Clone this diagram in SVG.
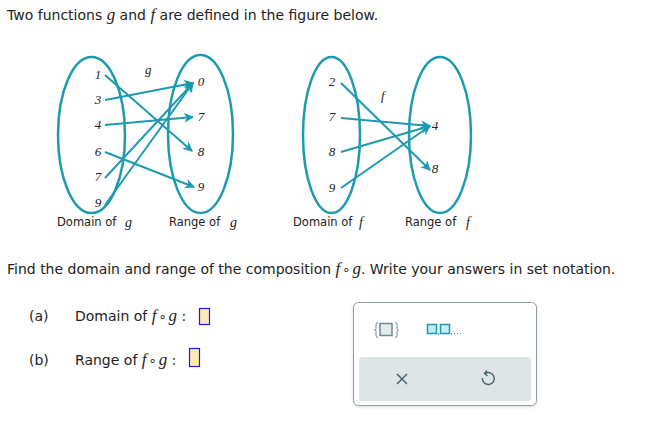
<svg xmlns="http://www.w3.org/2000/svg" width="661" height="426" viewBox="0 0 661 426">
<style>
.t{font-family:"DejaVu Sans",Verdana,sans-serif;font-size:14px;fill:#222}
.s{font-family:"DejaVu Sans",Verdana,sans-serif;font-size:11.5px;fill:#222}
.m{font-family:"Liberation Serif","Times New Roman",serif;font-style:italic;fill:#222}
.c{font-family:"DejaVu Sans",sans-serif;font-size:13px}
.n{font-family:"Liberation Serif","Times New Roman",serif;font-style:italic;font-size:13px;fill:#222;text-anchor:middle}
.ov{fill:none;stroke:#1e9ab0;stroke-width:2.5}
.ar{stroke:#1e9ab0;stroke-width:2;fill:none;marker-end:url(#ah)}
</style>
<defs>
<marker id="ah" viewBox="0 0 10 10" refX="9" refY="5" markerWidth="5" markerHeight="5" orient="auto" markerUnits="strokeWidth">
<path d="M0,0 L10,5 L0,10 L3,5 z" fill="#1e9ab0"/>
</marker>
<filter id="sh" x="-5%" y="-5%" width="110%" height="115%"><feDropShadow dx="0" dy="1" stdDeviation="1.5" flood-color="#000" flood-opacity="0.15"/></filter>
</defs>
<rect width="661" height="426" fill="#fff"/>
<text class="t" x="7" y="20">Two functions <tspan class="m" font-size="17">g</tspan> and <tspan class="m" font-size="17">f</tspan> are defined in the figure below.</text>

<g id="g-domain">
<ellipse class="ov" cx="91.5" cy="135" rx="33.5" ry="78"/>
<text class="n" x="98" y="79">1</text>
<text class="n" x="98" y="104">3</text>
<text class="n" x="98" y="129">4</text>
<text class="n" x="98" y="156">6</text>
<text class="n" x="98" y="181">7</text>
<text class="n" x="98" y="207">9</text>
</g>
<g id="g-range">
<ellipse class="ov" cx="200.5" cy="134" rx="32.5" ry="79"/>
<text class="n" x="201" y="86">0</text>
<text class="n" x="201" y="121">7</text>
<text class="n" x="201" y="156">8</text>
<text class="n" x="201" y="191">9</text>
</g>
<text class="m" x="145" y="74" font-size="13">g</text>
<text class="s" x="57" y="226">Domain of</text><text class="m" x="125" y="227" font-size="14">g</text>
<text class="s" x="169" y="226">Range of</text><text class="m" x="230" y="227" font-size="14">g</text>

<g id="f-domain">
<ellipse class="ov" cx="331.5" cy="135" rx="28.5" ry="78"/>
<text class="n" x="332" y="86">2</text>
<text class="n" x="332" y="121">7</text>
<text class="n" x="332" y="156">8</text>
<text class="n" x="332" y="192">9</text>
</g>
<g id="f-range">
<ellipse class="ov" cx="440" cy="135" rx="31" ry="78"/>
<text class="n" x="435" y="130">4</text>
<text class="n" x="435" y="173">8</text>
</g>
<text class="m" x="381" y="100" font-size="13">f</text>
<text class="s" x="293" y="226">Domain of</text><text class="m" x="359" y="227" font-size="14">f</text>
<text class="s" x="405" y="226">Range of</text><text class="m" x="466" y="227" font-size="14">f</text>

<g id="connectors">
<line class="ar" x1="105" y1="75" x2="192" y2="151"/>
<line class="ar" x1="105" y1="100" x2="193" y2="83"/>
<line class="ar" x1="105" y1="125" x2="193" y2="117"/>
<line class="ar" x1="105" y1="152" x2="194" y2="187"/>
<line class="ar" x1="105" y1="178" x2="193" y2="83"/>
<line class="ar" x1="105" y1="205" x2="193" y2="83"/>
<line class="ar" x1="341" y1="83" x2="430" y2="170"/>
<line class="ar" x1="341" y1="118" x2="430" y2="126"/>
<line class="ar" x1="341" y1="152" x2="430" y2="126"/>
<line class="ar" x1="341" y1="188" x2="430" y2="126"/>
</g>

<text class="t" x="7" y="274">Find the domain and range of the composition <tspan class="m" font-size="17">f</tspan><tspan class="c" dx="2">∘</tspan><tspan class="m" font-size="17" dx="2">g</tspan>. Write your answers in set notation.</text>

<text class="t" x="29" y="321">(a)</text>
<text class="t" x="75" y="321">Domain of <tspan class="m" font-size="17">f</tspan><tspan class="c" dx="2">∘</tspan><tspan class="m" font-size="17" dx="2">g</tspan> :</text>
<rect x="199.5" y="308.5" width="10" height="16" fill="#fde9b5" stroke="#1a1aff" stroke-width="1.2"/>
<text class="t" x="29" y="365">(b)</text>
<text class="t" x="75" y="365">Range of <tspan class="m" font-size="17">f</tspan><tspan class="c" dx="2">∘</tspan><tspan class="m" font-size="17" dx="2">g</tspan> :</text>
<rect x="189.5" y="348.5" width="10" height="18" fill="#fde9b5" stroke="#1a1aff" stroke-width="1.2"/>

<g id="panel">
<rect x="353.5" y="302.5" width="183" height="103" rx="5" fill="#fff" stroke="#8e9ea3" filter="url(#sh)"/>
<rect x="359" y="357" width="172" height="44" rx="3" fill="#dfe5e7"/>
<path d="M378,322.5 q-2,0 -2,2 v4 q0,1.5 -1.5,1.5 q1.5,0 1.5,1.5 v4 q0,2 2,2 M395,322.5 q2,0 2,2 v4 q0,1.5 1.5,1.5 q-1.5,0 -1.5,1.5 v4 q0,2 -2,2" fill="none" stroke="#6d8891" stroke-width="1"/>
<rect x="380" y="323.5" width="12" height="12" fill="#e4ebed" stroke="#6d8891" stroke-width="1.5"/>
<rect x="427.5" y="324.5" width="9" height="9" fill="#c6ecf2" stroke="#1a9cb0" stroke-width="1.5"/>
<rect x="440.5" y="324.5" width="9" height="9" fill="#c6ecf2" stroke="#1a9cb0" stroke-width="1.5"/>
<g fill="#6d8891"><rect x="438" y="333" width="1" height="2"/><rect x="451" y="333" width="1" height="2"/><rect x="454" y="333" width="1" height="1"/><rect x="457" y="333" width="1" height="1"/><rect x="460" y="333" width="1" height="1"/></g>
<path d="M397,374 l10,10 M407,374 l-10,10" stroke="#46656f" stroke-width="1.5"/>
<path d="M485,373.5 A6,6 0 1 1 482.3,378" fill="none" stroke="#46656f" stroke-width="1.4"/>
<path d="M487,370.5 l-2.5,3 l3,2.5" fill="none" stroke="#46656f" stroke-width="1.4"/>
</g>
</svg>
